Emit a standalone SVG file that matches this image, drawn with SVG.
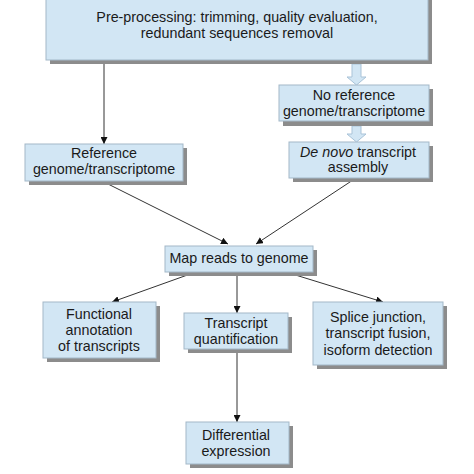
<svg xmlns="http://www.w3.org/2000/svg" width="474" height="474" viewBox="0 0 474 474">
<defs>
<marker id="ah" viewBox="0 0 10 10" refX="10" refY="5" markerWidth="7" markerHeight="7" markerUnits="userSpaceOnUse" orient="auto">
<path d="M0,0 L10,5 L0,10 z" fill="#111"/>
</marker>
<style>
.sh{fill:#8c8c8c}
.bx{fill:#d2e6f4;stroke:#a3b8c8;stroke-width:1}
text{font-family:"Liberation Sans",Arial,sans-serif;font-size:14.3px;fill:#1a1a1a;text-anchor:middle}
.ln{stroke:#333;stroke-width:1;fill:none;marker-end:url(#ah)}
.fat{fill:#d2e6f4;stroke:#a9c3d8;stroke-width:1}
</style>
</defs>
<rect width="474" height="474" fill="#fff"/>
<g id="connectors">
<line class="ln" x1="104" y1="64" x2="104" y2="144"/>
<path class="fat" d="M352,64 H361 V77 H366 L356.5,85 L347,77 H352 Z"/>
<path class="fat" d="M352,126 H361 V134 H366 L356.5,142 L347,134 H352 Z"/>
<line class="ln" x1="102" y1="181" x2="228" y2="244"/>
<line class="ln" x1="356" y1="178" x2="256" y2="244"/>
<line class="ln" x1="193" y1="273" x2="112" y2="302"/>
<line class="ln" x1="237" y1="273" x2="237" y2="313"/>
<line class="ln" x1="289" y1="273" x2="383" y2="302"/>
<line class="ln" x1="237" y1="353" x2="237" y2="422"/>
</g>
<g id="preprocessing">
<rect class="sh" x="50" y="-10" width="382" height="74"/>
<rect class="bx" x="46" y="-14" width="382" height="74"/>
<text x="237" y="22">Pre-processing: trimming, quality evaluation,</text>
<text x="237" y="38">redundant sequences removal</text>
</g>
<g id="noreference">
<rect class="sh" x="283" y="89" width="150" height="37"/>
<rect class="bx" x="279" y="85" width="150" height="36"/>
<text x="354" y="100">No reference</text>
<text x="354" y="116">genome/transcriptome</text>
</g>
<g id="denovo">
<rect class="sh" x="293" y="146" width="140" height="36"/>
<rect class="bx" x="289" y="142" width="140" height="36"/>
<text x="358" y="157"><tspan font-style="italic">De novo</tspan> transcript</text>
<text x="358" y="172">assembly</text>
</g>
<g id="reference">
<rect class="sh" x="29" y="148" width="158" height="37"/>
<rect class="bx" x="25" y="144" width="158" height="37"/>
<text x="104" y="158">Reference</text>
<text x="104" y="174">genome/transcriptome</text>
</g>
<g id="mapreads">
<rect class="sh" x="169" y="250" width="148" height="26"/>
<rect class="bx" x="165" y="246" width="148" height="26"/>
<text x="239" y="263">Map reads to genome</text>
</g>
<g id="functional">
<rect class="sh" x="47" y="306" width="113" height="56"/>
<rect class="bx" x="43" y="302" width="113" height="56"/>
<text x="99" y="319">Functional</text>
<text x="99" y="335">annotation</text>
<text x="99" y="351">of transcripts</text>
</g>
<g id="quantification">
<rect class="sh" x="188" y="317" width="104" height="36"/>
<rect class="bx" x="184" y="313" width="104" height="36"/>
<text x="236" y="328">Transcript</text>
<text x="236" y="344">quantification</text>
</g>
<g id="splice">
<rect class="sh" x="317" y="306" width="130" height="63"/>
<rect class="bx" x="313" y="302" width="130" height="63"/>
<text x="378" y="322">Splice junction,</text>
<text x="378" y="338">transcript fusion,</text>
<text x="378" y="355">isoform detection</text>
</g>
<g id="differential">
<rect class="sh" x="190" y="426" width="103" height="42"/>
<rect class="bx" x="186" y="422" width="103" height="42"/>
<text x="236" y="440">Differential</text>
<text x="236" y="456">expression</text>
</g>
</svg>
